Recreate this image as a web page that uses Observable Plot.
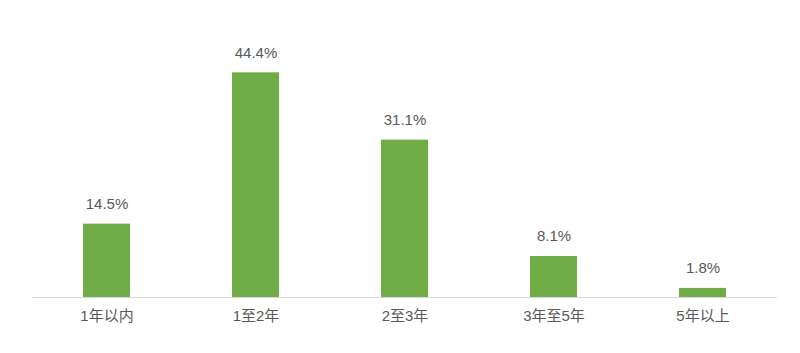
<!DOCTYPE html>
<html><head><meta charset="utf-8">
<script src="https://cdn.jsdelivr.net/npm/d3@7"></script>
<script src="https://cdn.jsdelivr.net/npm/@observablehq/plot@0.6"></script>
<style>body{margin:0;background:#fff;} svg{display:block;}</style>
</head><body><div id="chart"></div>
<script>
const categories = ["1年以内", "1至2年", "2至3年", "3年至5年", "5年以上"];
const values = [14.5, 44.4, 31.1, 8.1, 1.8];
const data = categories.map((c, i) => ({cat: c, v: values[i]}));
const font = "'Liberation Sans', 'Noto Sans CJK SC', sans-serif";
const chart = Plot.plot({
  width: 800, height: 353,
  marginLeft: 32, marginRight: 23, marginTop: 44, marginBottom: 56,
  style: {fontFamily: font, fontSize: "15px", color: "#595959", background: "#fff"},
  x: {domain: categories, paddingInner: 0.685, paddingOuter: 0.3425, label: null, tickSize: 0, tickPadding: 13},
  y: {domain: [0, 50], axis: null},
  marks: [
    Plot.barY(data, {x: "cat", y: "v", fill: "#70AD47"}),
    Plot.ruleY([0], {stroke: "#d9d9d9", strokeWidth: 1}),
    Plot.text(data, {x: "cat", y: "v", text: d => d.v.toFixed(1) + "%", dy: -20, fill: "#595959", fontSize: 15})
  ]
});
document.getElementById("chart").appendChild(chart);
</script></body></html>
